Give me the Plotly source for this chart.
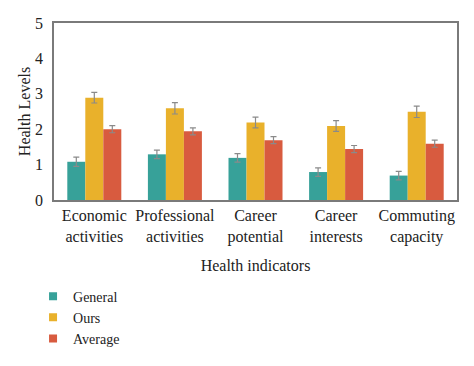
import plotly.graph_objects as go

categories = ["Economic<br>activities", "Professional<br>activities", "Career<br>potential",
              "Career<br>interests", "Commuting<br>capacity"]
general = [1.08, 1.29, 1.19, 0.79, 0.69]
general_err = [0.13, 0.12, 0.12, 0.12, 0.12]
ours = [2.89, 2.59, 2.19, 2.09, 2.49]
ours_err = [0.15, 0.16, 0.15, 0.15, 0.16]
average = [2.0, 1.94, 1.69, 1.44, 1.59]
average_err = [0.1, 0.1, 0.1, 0.1, 0.1]
series_names = ["General", "Ours", "Average"]

colors = {"General": "#37a199", "Ours": "#e9b12b", "Average": "#d85b3f"}

fig = go.Figure()
for name, vals, errs in zip(series_names, [general, ours, average],
                            [general_err, ours_err, average_err]):
    fig.add_trace(go.Bar(
        x=categories, y=vals, name=name, marker_color=colors[name], marker_line_width=0,
        legendgroup=name, showlegend=False,
        error_y=dict(type="data", array=errs, visible=True, color="#8a8a8a", thickness=1.2, width=3),
    ))
# legend entries with small square markers
for name in series_names:
    fig.add_trace(go.Scatter(
        x=[None], y=[None], mode="markers", name=name, legendgroup=name,
        marker=dict(symbol="square", size=8, color=colors[name]),
    ))

font_family = "Liberation Serif, Times New Roman, serif"
fig.update_layout(
    width=474, height=366,
    margin=dict(l=54, r=17, t=23, b=166),
    paper_bgcolor="white", plot_bgcolor="white",
    barmode="group", bargap=0.33, bargroupgap=0,
    font=dict(family=font_family, size=16, color="#222"),
    xaxis=dict(
        automargin=False, tickangle=0,
        showline=True, linecolor="#7a7a7a", linewidth=1.5, mirror=True,
        ticks="", tickfont=dict(size=16), title=dict(text="Health indicators", font=dict(size=16), standoff=15),
    ),
    yaxis=dict(
        automargin=False,
        range=[0, 5], dtick=1, showgrid=False, zeroline=False,
        showline=True, linecolor="#7a7a7a", linewidth=1.5, mirror=True,
        ticks="", ticklabelstandoff=6, tickfont=dict(size=16),
        title=dict(text="Health Levels", font=dict(size=16), standoff=0),
    ),
    legend=dict(x=-0.052, y=-0.455,
                xanchor="left", yanchor="top", orientation="v",
                font=dict(size=14), itemwidth=30, tracegroupgap=0),
)

fig.write_html("out.html", config={"displayModeBar": False},
               post_script="document.body.style.margin='0';document.body.style.overflow='hidden';")
